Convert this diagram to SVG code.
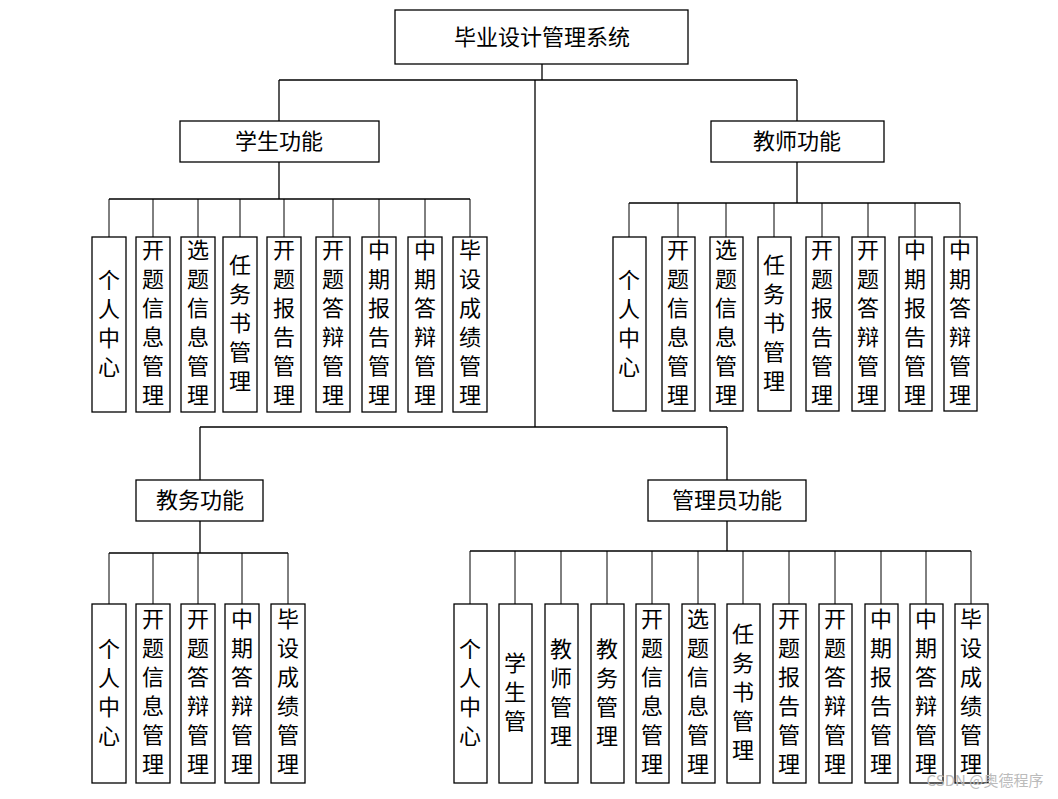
<svg xmlns="http://www.w3.org/2000/svg" width="1058" height="799" viewBox="0 0 1058 799">
<style>
rect{fill:#fff;stroke:#000;stroke-width:1.3}
text{font-family:"Noto Sans CJK SC","Noto Sans",sans-serif;font-size:22px;fill:#000;text-anchor:middle}
.c line,.c polyline{stroke:#000;stroke-width:1.3;fill:none}
</style>
<rect x="0" y="0" width="1058" height="799" style="fill:#fff;stroke:none"/>
<g class="c">
<line x1="542" y1="64" x2="542" y2="80"/><line x1="279" y1="80" x2="797" y2="80"/>
<line x1="279" y1="80" x2="279" y2="121"/><line x1="797" y1="80" x2="797" y2="121"/>
<line x1="535" y1="80" x2="535" y2="427"/><line x1="200" y1="427" x2="727" y2="427"/>
<line x1="200" y1="427" x2="200" y2="480"/><line x1="727" y1="427" x2="727" y2="480"/>
<line x1="279" y1="162" x2="279" y2="199"/><line x1="109" y1="199" x2="470" y2="199"/>
<line x1="797" y1="162" x2="797" y2="203"/><line x1="629" y1="203" x2="960" y2="203"/>
<line x1="200" y1="521" x2="200" y2="553"/><line x1="109" y1="553" x2="288" y2="553"/>
<line x1="727" y1="521" x2="727" y2="551"/><line x1="470" y1="551" x2="971" y2="551"/>
</g>
<g id="root"><rect x="395" y="10" width="293" height="54"/><text x="542" y="45">毕业设计管理系统</text></g>
<g id="student"><rect x="180" y="121" width="199" height="41"/><text x="279" y="149">学生功能</text></g>
<g id="teacher"><rect x="711" y="121" width="173" height="41"/><text x="797" y="149">教师功能</text></g>
<g id="jiaowu"><rect x="136" y="480" width="127" height="41"/><text x="200" y="508">教务功能</text></g>
<g id="admin"><rect x="648" y="480" width="158" height="41"/><text x="727" y="508">管理员功能</text></g>
<g id="s1"><line x1="109" y1="199" x2="109" y2="237" stroke="#000"/><rect x="92" y="237" width="34" height="175"/><text x="109" y="288">个<tspan x="109" dy="29">人</tspan><tspan x="109" dy="29">中</tspan><tspan x="109" dy="29">心</tspan></text></g>
<g id="s2"><line x1="153" y1="199" x2="153" y2="237" stroke="#000"/><rect x="136" y="237" width="34" height="175"/><text x="153" y="258">开<tspan x="153" dy="29">题</tspan><tspan x="153" dy="29">信</tspan><tspan x="153" dy="29">息</tspan><tspan x="153" dy="29">管</tspan><tspan x="153" dy="29">理</tspan></text></g>
<g id="s3"><line x1="198" y1="199" x2="198" y2="237" stroke="#000"/><rect x="181" y="237" width="34" height="175"/><text x="198" y="258">选<tspan x="198" dy="29">题</tspan><tspan x="198" dy="29">信</tspan><tspan x="198" dy="29">息</tspan><tspan x="198" dy="29">管</tspan><tspan x="198" dy="29">理</tspan></text></g>
<g id="s4"><line x1="240" y1="199" x2="240" y2="237" stroke="#000"/><rect x="223" y="237" width="34" height="175"/><text x="240" y="273">任<tspan x="240" dy="29">务</tspan><tspan x="240" dy="29">书</tspan><tspan x="240" dy="29">管</tspan><tspan x="240" dy="29">理</tspan></text></g>
<g id="s5"><line x1="284" y1="199" x2="284" y2="237" stroke="#000"/><rect x="267" y="237" width="34" height="175"/><text x="284" y="258">开<tspan x="284" dy="29">题</tspan><tspan x="284" dy="29">报</tspan><tspan x="284" dy="29">告</tspan><tspan x="284" dy="29">管</tspan><tspan x="284" dy="29">理</tspan></text></g>
<g id="s6"><line x1="333" y1="199" x2="333" y2="237" stroke="#000"/><rect x="316" y="237" width="34" height="175"/><text x="333" y="258">开<tspan x="333" dy="29">题</tspan><tspan x="333" dy="29">答</tspan><tspan x="333" dy="29">辩</tspan><tspan x="333" dy="29">管</tspan><tspan x="333" dy="29">理</tspan></text></g>
<g id="s7"><line x1="379" y1="199" x2="379" y2="237" stroke="#000"/><rect x="362" y="237" width="34" height="175"/><text x="379" y="258">中<tspan x="379" dy="29">期</tspan><tspan x="379" dy="29">报</tspan><tspan x="379" dy="29">告</tspan><tspan x="379" dy="29">管</tspan><tspan x="379" dy="29">理</tspan></text></g>
<g id="s8"><line x1="425" y1="199" x2="425" y2="237" stroke="#000"/><rect x="408" y="237" width="34" height="175"/><text x="425" y="258">中<tspan x="425" dy="29">期</tspan><tspan x="425" dy="29">答</tspan><tspan x="425" dy="29">辩</tspan><tspan x="425" dy="29">管</tspan><tspan x="425" dy="29">理</tspan></text></g>
<g id="s9"><line x1="470" y1="199" x2="470" y2="237" stroke="#000"/><rect x="453" y="237" width="34" height="175"/><text x="470" y="258">毕<tspan x="470" dy="29">设</tspan><tspan x="470" dy="29">成</tspan><tspan x="470" dy="29">绩</tspan><tspan x="470" dy="29">管</tspan><tspan x="470" dy="29">理</tspan></text></g>
<g id="t1"><line x1="629" y1="203" x2="629" y2="237" stroke="#000"/><rect x="613" y="237" width="33" height="174"/><text x="629" y="288">个<tspan x="629" dy="29">人</tspan><tspan x="629" dy="29">中</tspan><tspan x="629" dy="29">心</tspan></text></g>
<g id="t2"><line x1="678" y1="203" x2="678" y2="237" stroke="#000"/><rect x="662" y="237" width="33" height="174"/><text x="678" y="258">开<tspan x="678" dy="29">题</tspan><tspan x="678" dy="29">信</tspan><tspan x="678" dy="29">息</tspan><tspan x="678" dy="29">管</tspan><tspan x="678" dy="29">理</tspan></text></g>
<g id="t3"><line x1="726" y1="203" x2="726" y2="237" stroke="#000"/><rect x="710" y="237" width="33" height="174"/><text x="726" y="258">选<tspan x="726" dy="29">题</tspan><tspan x="726" dy="29">信</tspan><tspan x="726" dy="29">息</tspan><tspan x="726" dy="29">管</tspan><tspan x="726" dy="29">理</tspan></text></g>
<g id="t4"><line x1="774" y1="203" x2="774" y2="237" stroke="#000"/><rect x="758" y="237" width="33" height="174"/><text x="774" y="273">任<tspan x="774" dy="29">务</tspan><tspan x="774" dy="29">书</tspan><tspan x="774" dy="29">管</tspan><tspan x="774" dy="29">理</tspan></text></g>
<g id="t5"><line x1="822" y1="203" x2="822" y2="237" stroke="#000"/><rect x="806" y="237" width="33" height="174"/><text x="822" y="258">开<tspan x="822" dy="29">题</tspan><tspan x="822" dy="29">报</tspan><tspan x="822" dy="29">告</tspan><tspan x="822" dy="29">管</tspan><tspan x="822" dy="29">理</tspan></text></g>
<g id="t6"><line x1="868" y1="203" x2="868" y2="237" stroke="#000"/><rect x="852" y="237" width="33" height="174"/><text x="868" y="258">开<tspan x="868" dy="29">题</tspan><tspan x="868" dy="29">答</tspan><tspan x="868" dy="29">辩</tspan><tspan x="868" dy="29">管</tspan><tspan x="868" dy="29">理</tspan></text></g>
<g id="t7"><line x1="915" y1="203" x2="915" y2="237" stroke="#000"/><rect x="899" y="237" width="33" height="174"/><text x="915" y="258">中<tspan x="915" dy="29">期</tspan><tspan x="915" dy="29">报</tspan><tspan x="915" dy="29">告</tspan><tspan x="915" dy="29">管</tspan><tspan x="915" dy="29">理</tspan></text></g>
<g id="t8"><line x1="960" y1="203" x2="960" y2="237" stroke="#000"/><rect x="944" y="237" width="33" height="174"/><text x="960" y="258">中<tspan x="960" dy="29">期</tspan><tspan x="960" dy="29">答</tspan><tspan x="960" dy="29">辩</tspan><tspan x="960" dy="29">管</tspan><tspan x="960" dy="29">理</tspan></text></g>
<g id="j1"><line x1="109" y1="553" x2="109" y2="604" stroke="#000"/><rect x="92" y="604" width="34" height="179"/><text x="109" y="657">个<tspan x="109" dy="29">人</tspan><tspan x="109" dy="29">中</tspan><tspan x="109" dy="29">心</tspan></text></g>
<g id="j2"><line x1="153" y1="553" x2="153" y2="604" stroke="#000"/><rect x="136" y="604" width="34" height="179"/><text x="153" y="627">开<tspan x="153" dy="29">题</tspan><tspan x="153" dy="29">信</tspan><tspan x="153" dy="29">息</tspan><tspan x="153" dy="29">管</tspan><tspan x="153" dy="29">理</tspan></text></g>
<g id="j3"><line x1="198" y1="553" x2="198" y2="604" stroke="#000"/><rect x="181" y="604" width="34" height="179"/><text x="198" y="627">开<tspan x="198" dy="29">题</tspan><tspan x="198" dy="29">答</tspan><tspan x="198" dy="29">辩</tspan><tspan x="198" dy="29">管</tspan><tspan x="198" dy="29">理</tspan></text></g>
<g id="j4"><line x1="242" y1="553" x2="242" y2="604" stroke="#000"/><rect x="225" y="604" width="34" height="179"/><text x="242" y="627">中<tspan x="242" dy="29">期</tspan><tspan x="242" dy="29">答</tspan><tspan x="242" dy="29">辩</tspan><tspan x="242" dy="29">管</tspan><tspan x="242" dy="29">理</tspan></text></g>
<g id="j5"><line x1="288" y1="553" x2="288" y2="604" stroke="#000"/><rect x="271" y="604" width="34" height="179"/><text x="288" y="627">毕<tspan x="288" dy="29">设</tspan><tspan x="288" dy="29">成</tspan><tspan x="288" dy="29">绩</tspan><tspan x="288" dy="29">管</tspan><tspan x="288" dy="29">理</tspan></text></g>
<g id="a1"><line x1="470" y1="551" x2="470" y2="604" stroke="#000"/><rect x="454" y="604" width="33" height="179"/><text x="470" y="657">个<tspan x="470" dy="29">人</tspan><tspan x="470" dy="29">中</tspan><tspan x="470" dy="29">心</tspan></text></g>
<g id="a2"><line x1="515" y1="551" x2="515" y2="604" stroke="#000"/><rect x="499" y="604" width="33" height="179"/><text x="515" y="671">学<tspan x="515" dy="29">生</tspan><tspan x="515" dy="29">管</tspan></text></g>
<g id="a3"><line x1="561" y1="551" x2="561" y2="604" stroke="#000"/><rect x="545" y="604" width="33" height="179"/><text x="561" y="657">教<tspan x="561" dy="29">师</tspan><tspan x="561" dy="29">管</tspan><tspan x="561" dy="29">理</tspan></text></g>
<g id="a4"><line x1="607" y1="551" x2="607" y2="604" stroke="#000"/><rect x="591" y="604" width="33" height="179"/><text x="607" y="657">教<tspan x="607" dy="29">务</tspan><tspan x="607" dy="29">管</tspan><tspan x="607" dy="29">理</tspan></text></g>
<g id="a5"><line x1="652" y1="551" x2="652" y2="604" stroke="#000"/><rect x="636" y="604" width="33" height="179"/><text x="652" y="627">开<tspan x="652" dy="29">题</tspan><tspan x="652" dy="29">信</tspan><tspan x="652" dy="29">息</tspan><tspan x="652" dy="29">管</tspan><tspan x="652" dy="29">理</tspan></text></g>
<g id="a6"><line x1="698" y1="551" x2="698" y2="604" stroke="#000"/><rect x="682" y="604" width="33" height="179"/><text x="698" y="627">选<tspan x="698" dy="29">题</tspan><tspan x="698" dy="29">信</tspan><tspan x="698" dy="29">息</tspan><tspan x="698" dy="29">管</tspan><tspan x="698" dy="29">理</tspan></text></g>
<g id="a7"><line x1="743" y1="551" x2="743" y2="604" stroke="#000"/><rect x="727" y="604" width="33" height="179"/><text x="743" y="642">任<tspan x="743" dy="29">务</tspan><tspan x="743" dy="29">书</tspan><tspan x="743" dy="29">管</tspan><tspan x="743" dy="29">理</tspan></text></g>
<g id="a8"><line x1="789" y1="551" x2="789" y2="604" stroke="#000"/><rect x="773" y="604" width="33" height="179"/><text x="789" y="627">开<tspan x="789" dy="29">题</tspan><tspan x="789" dy="29">报</tspan><tspan x="789" dy="29">告</tspan><tspan x="789" dy="29">管</tspan><tspan x="789" dy="29">理</tspan></text></g>
<g id="a9"><line x1="835" y1="551" x2="835" y2="604" stroke="#000"/><rect x="819" y="604" width="33" height="179"/><text x="835" y="627">开<tspan x="835" dy="29">题</tspan><tspan x="835" dy="29">答</tspan><tspan x="835" dy="29">辩</tspan><tspan x="835" dy="29">管</tspan><tspan x="835" dy="29">理</tspan></text></g>
<g id="a10"><line x1="881" y1="551" x2="881" y2="604" stroke="#000"/><rect x="865" y="604" width="33" height="179"/><text x="881" y="627">中<tspan x="881" dy="29">期</tspan><tspan x="881" dy="29">报</tspan><tspan x="881" dy="29">告</tspan><tspan x="881" dy="29">管</tspan><tspan x="881" dy="29">理</tspan></text></g>
<g id="a11"><line x1="926" y1="551" x2="926" y2="604" stroke="#000"/><rect x="910" y="604" width="33" height="179"/><text x="926" y="627">中<tspan x="926" dy="29">期</tspan><tspan x="926" dy="29">答</tspan><tspan x="926" dy="29">辩</tspan><tspan x="926" dy="29">管</tspan><tspan x="926" dy="29">理</tspan></text></g>
<g id="a12"><line x1="971" y1="551" x2="971" y2="604" stroke="#000"/><rect x="955" y="604" width="33" height="179"/><text x="971" y="627">毕<tspan x="971" dy="29">设</tspan><tspan x="971" dy="29">成</tspan><tspan x="971" dy="29">绩</tspan><tspan x="971" dy="29">管</tspan><tspan x="971" dy="29">理</tspan></text></g>
<text x="985" y="786" style="font-size:15px;fill:#bbb">CSDN @奥德程序</text>
</svg>
